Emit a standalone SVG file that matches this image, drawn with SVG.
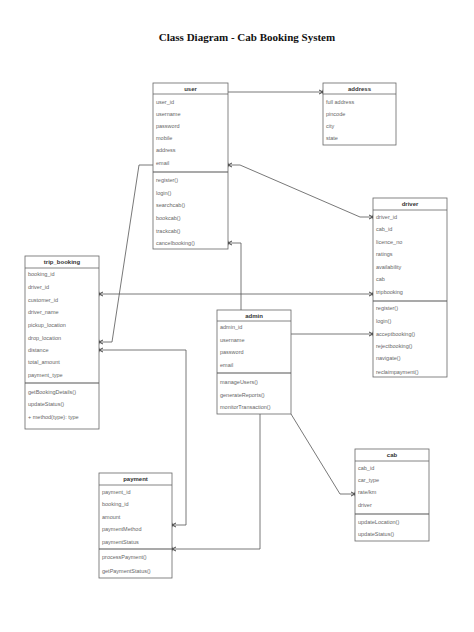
<svg xmlns="http://www.w3.org/2000/svg" width="474" height="632" viewBox="0 0 474 632">
<style>
.box{fill:#fff;stroke:#666;stroke-width:0.8}
.ln{stroke:#666;stroke-width:0.8}
.sep{stroke:#555;stroke-width:1.1}
.h{font-family:"Liberation Sans",Arial,sans-serif;font-size:6px;font-weight:bold;fill:#333;text-anchor:middle}
.t{font-family:"Liberation Sans",Arial,sans-serif;font-size:5.5px;fill:#666}
.c{fill:none;stroke:#555;stroke-width:0.8}
.title{font-family:"Liberation Serif","Times New Roman",serif;font-size:11px;font-weight:bold;fill:#111;text-anchor:middle}
</style>
<defs>
<marker id="m" markerUnits="userSpaceOnUse" markerWidth="6" markerHeight="6" refX="5" refY="3" orient="auto-start-reverse" viewBox="0 0 6 6">
<path d="M1,1 L5,3 L1,5 M5,0.8 L5,5.2" fill="none" stroke="#333" stroke-width="0.9"/>
</marker>
</defs>
<rect width="474" height="632" fill="#fff"/>
<text class="title" x="247" y="41">Class Diagram - Cab Booking System</text>

<g id="connectors">
<path class="c" d="M228,92 H323" marker-end="url(#m)"/>
<path class="c" d="M228,165 H240 L360,217 H373" marker-start="url(#m)" marker-end="url(#m)"/>
<path class="c" d="M241,310 V243 H228" marker-end="url(#m)"/>
<path class="c" d="M153,165 H139 L112,342 H99" marker-end="url(#m)"/>
<path class="c" d="M373,294 H99" marker-start="url(#m)" marker-end="url(#m)"/>
<path class="c" d="M291,334 H373" marker-end="url(#m)"/>
<path class="c" d="M99,350 H186 V525 H172" marker-start="url(#m)" marker-end="url(#m)"/>
<path class="c" d="M260,414 V549 H172" marker-end="url(#m)"/>
<path class="c" d="M291,414 L340,494 H355" marker-end="url(#m)"/>
</g>

<g id="user">
<rect class="box" x="153" y="83" width="75" height="166"/>
<line class="ln" x1="153" y1="94" x2="228" y2="94"/>
<line class="sep" x1="153" y1="172" x2="228" y2="172"/>
<text class="h" x="190.5" y="91">user</text>
<text class="t" x="156" y="104">user_id</text>
<text class="t" x="156" y="116">username</text>
<text class="t" x="156" y="128">password</text>
<text class="t" x="156" y="140">mobile</text>
<text class="t" x="156" y="152">address</text>
<text class="t" x="156" y="165">email</text>
<text class="t" x="156" y="182">register()</text>
<text class="t" x="156" y="195">login()</text>
<text class="t" x="156" y="207">searchcab()</text>
<text class="t" x="156" y="220">bookcab()</text>
<text class="t" x="156" y="233">trackcab()</text>
<text class="t" x="156" y="245">cancelbooking()</text>
</g>

<g id="address">
<rect class="box" x="323" y="83" width="73" height="62"/>
<line class="ln" x1="323" y1="94" x2="396" y2="94"/>
<text class="h" x="359.5" y="91">address</text>
<text class="t" x="326" y="104">full address</text>
<text class="t" x="326" y="116">pincode</text>
<text class="t" x="326" y="128">city</text>
<text class="t" x="326" y="140">state</text>
</g>

<g id="driver">
<rect class="box" x="373" y="198" width="74" height="179"/>
<line class="ln" x1="373" y1="210" x2="447" y2="210"/>
<line class="sep" x1="373" y1="301" x2="447" y2="301"/>
<text class="h" x="410" y="206">driver</text>
<text class="t" x="376" y="219">driver_id</text>
<text class="t" x="376" y="231">cab_id</text>
<text class="t" x="376" y="244">licence_no</text>
<text class="t" x="376" y="256">ratings</text>
<text class="t" x="376" y="269">availability</text>
<text class="t" x="376" y="281">cab</text>
<text class="t" x="376" y="294">tripbooking</text>
<text class="t" x="376" y="310">register()</text>
<text class="t" x="376" y="323">login()</text>
<text class="t" x="376" y="336">acceptbooking()</text>
<text class="t" x="376" y="348">rejectbooking()</text>
<text class="t" x="376" y="360">navigate()</text>
<text class="t" x="376" y="374">reclaimpayment()</text>
</g>

<g id="trip_booking">
<rect class="box" x="25" y="256" width="74" height="173"/>
<line class="ln" x1="25" y1="268" x2="99" y2="268"/>
<line class="sep" x1="25" y1="383" x2="99" y2="383"/>
<text class="h" x="62" y="264">trip_booking</text>
<text class="t" x="28" y="276">booking_id</text>
<text class="t" x="28" y="289">driver_id</text>
<text class="t" x="28" y="302">customer_id</text>
<text class="t" x="28" y="314">driver_name</text>
<text class="t" x="28" y="327">pickup_location</text>
<text class="t" x="28" y="340">drop_location</text>
<text class="t" x="28" y="352">distance</text>
<text class="t" x="28" y="364">total_amount</text>
<text class="t" x="28" y="377">payment_type</text>
<text class="t" x="28" y="394">getBookingDetails()</text>
<text class="t" x="28" y="406">updateStatus()</text>
<text class="t" x="28" y="419">+ method(type): type</text>
</g>

<g id="admin">
<rect class="box" x="217" y="310" width="74" height="104"/>
<line class="ln" x1="217" y1="321" x2="291" y2="321"/>
<line class="sep" x1="217" y1="373" x2="291" y2="373"/>
<text class="h" x="254" y="318">admin</text>
<text class="t" x="220" y="329">admin_id</text>
<text class="t" x="220" y="342">username</text>
<text class="t" x="220" y="354">password</text>
<text class="t" x="220" y="367">email</text>
<text class="t" x="220" y="384">manageUsers()</text>
<text class="t" x="220" y="397">generateReports()</text>
<text class="t" x="220" y="409">monitorTransaction()</text>
</g>

<g id="cab">
<rect class="box" x="355" y="449" width="74" height="92"/>
<line class="ln" x1="355" y1="461" x2="429" y2="461"/>
<line class="sep" x1="355" y1="514" x2="429" y2="514"/>
<text class="h" x="392" y="457">cab</text>
<text class="t" x="358" y="470">cab_id</text>
<text class="t" x="358" y="482">car_type</text>
<text class="t" x="358" y="494">rate/km</text>
<text class="t" x="358" y="507">driver</text>
<text class="t" x="358" y="524">updateLocation()</text>
<text class="t" x="358" y="536">updateStatus()</text>
</g>

<g id="payment">
<rect class="box" x="99" y="473" width="73" height="105"/>
<line class="ln" x1="99" y1="485" x2="172" y2="485"/>
<line class="sep" x1="99" y1="549" x2="172" y2="549"/>
<text class="h" x="135.5" y="481">payment</text>
<text class="t" x="102" y="494">payment_id</text>
<text class="t" x="102" y="506">booking_id</text>
<text class="t" x="102" y="519">amount</text>
<text class="t" x="102" y="531">paymentMethod</text>
<text class="t" x="102" y="544">paymentStatus</text>
<text class="t" x="102" y="559">processPayment()</text>
<text class="t" x="102" y="573">getPaymentStatus()</text>
</g>
</svg>
